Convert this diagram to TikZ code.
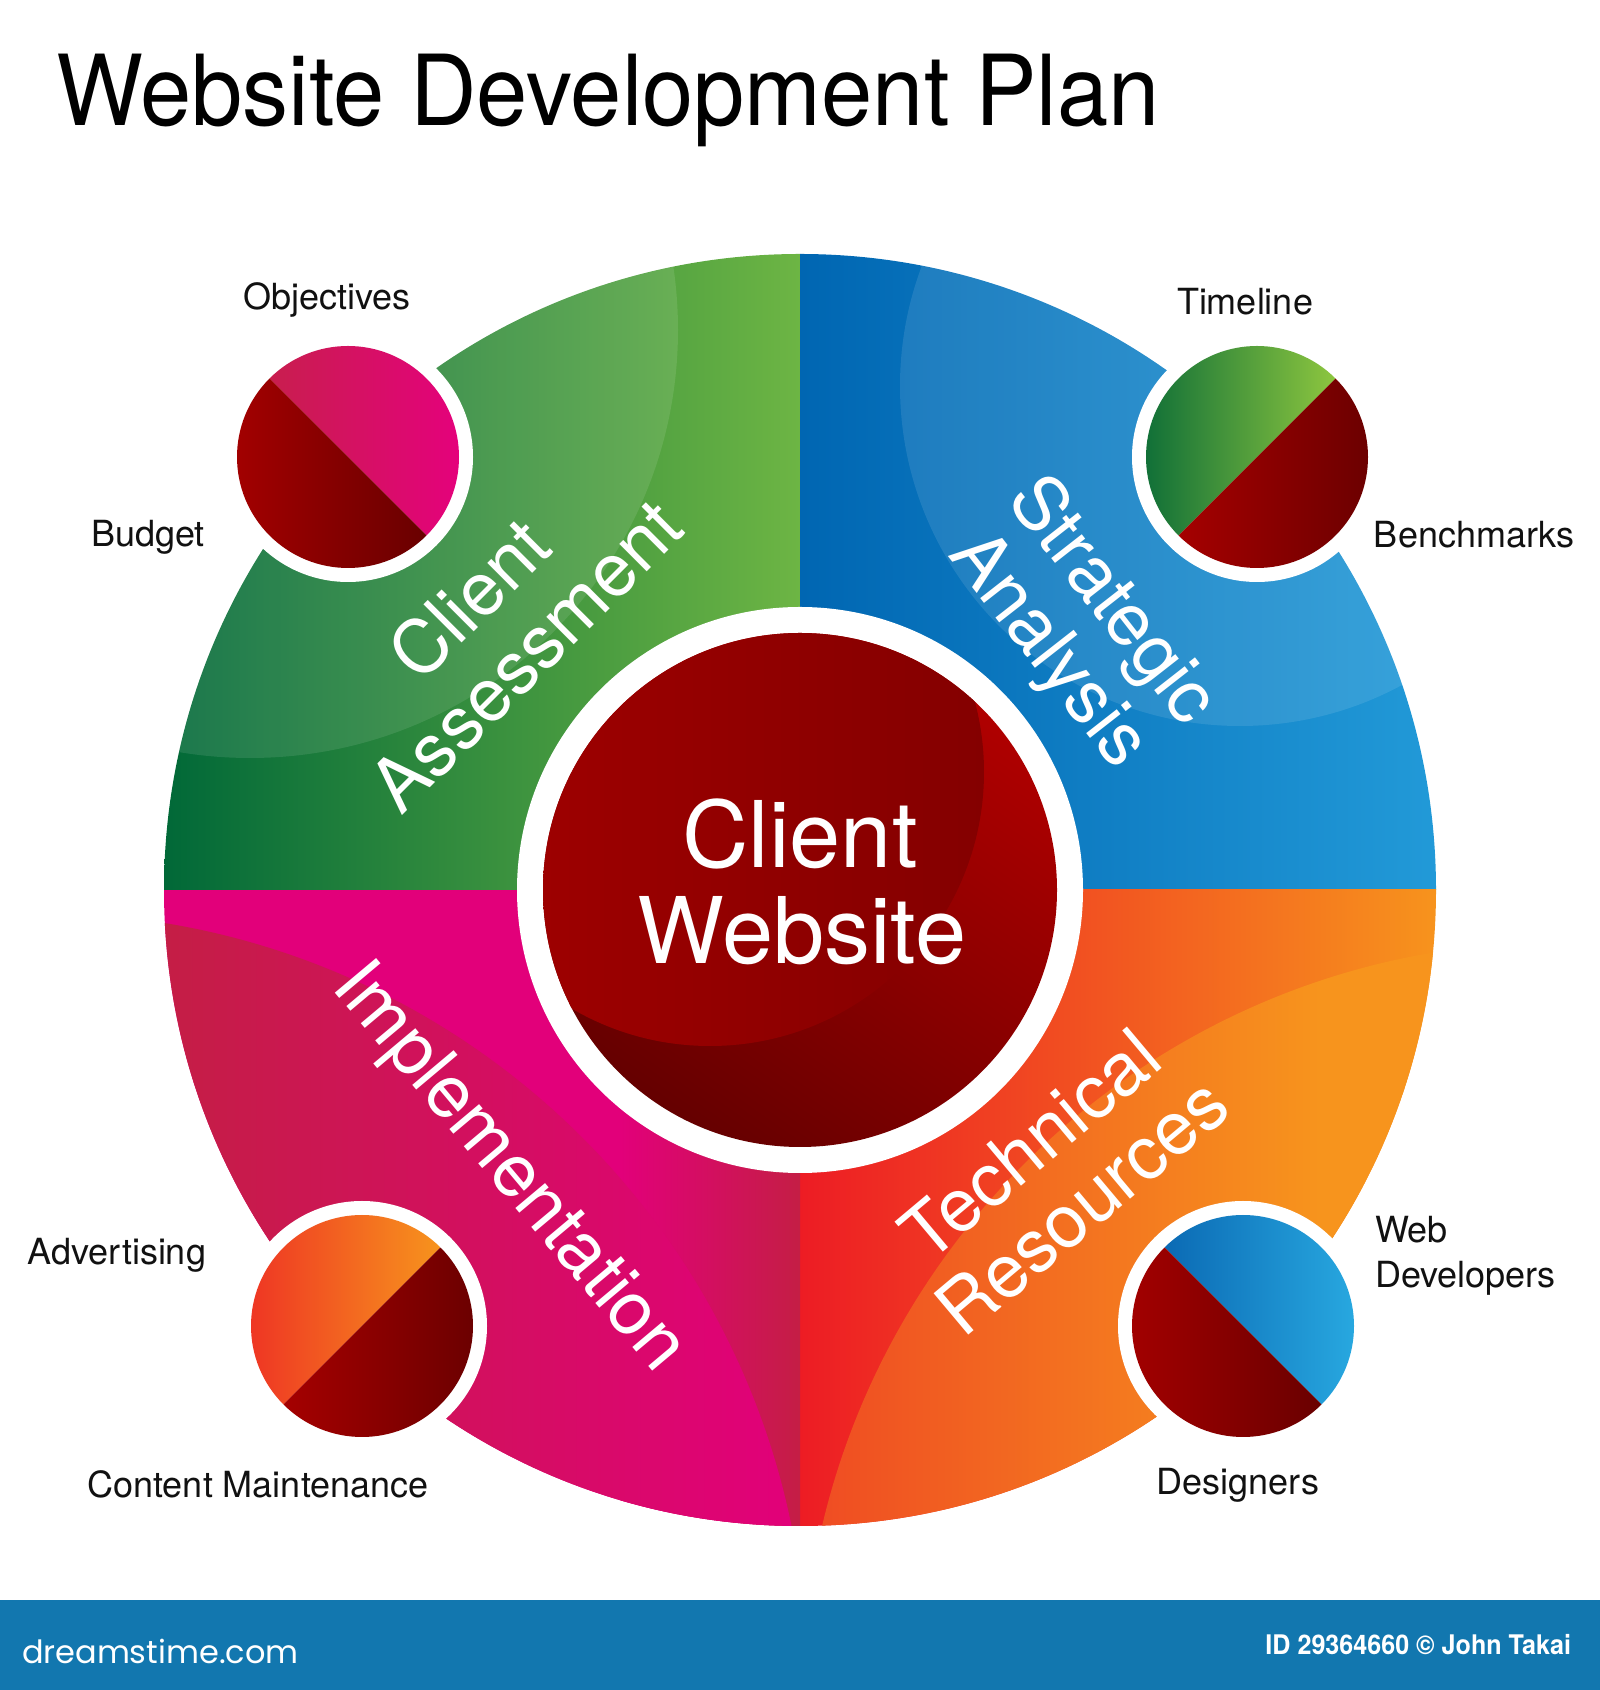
\documentclass[tikz,border=0pt]{standalone}
\usepackage{fontspec}
\setmainfont{TeX Gyre Heros}
\newfontfamily\logofont{Poppins}
\definecolor{gA}{HTML}{006838}
\definecolor{gB}{HTML}{6DB544}
\definecolor{bA}{HTML}{0066B2}
\definecolor{bB}{HTML}{229AD8}
\definecolor{oA}{HTML}{ED1C24}
\definecolor{oB}{HTML}{F7941D}
\definecolor{oC}{HTML}{EF4A23}
\definecolor{pA}{HTML}{E2007A}
\definecolor{pB}{HTML}{C41E45}
\definecolor{rA}{HTML}{B00000}
\definecolor{rB}{HTML}{650000}
\definecolor{rC}{HTML}{A30000}
\definecolor{rD}{HTML}{840000}
\definecolor{mA}{HTML}{C81E4E}
\definecolor{mB}{HTML}{E6007E}
\definecolor{dA}{HTML}{A50000}
\definecolor{dB}{HTML}{690000}
\definecolor{sgA}{HTML}{0A6B37}
\definecolor{sgB}{HTML}{8DC63F}
\definecolor{soA}{HTML}{EE3124}
\definecolor{soB}{HTML}{F7941D}
\definecolor{sbA}{HTML}{0B6AB4}
\definecolor{sbB}{HTML}{29ABE2}
\definecolor{banner}{HTML}{1277AF}
\definecolor{labelblack}{HTML}{111111}
\begin{document}
\begin{tikzpicture}[x=1pt,y=1pt,
  every node/.style={inner sep=0pt, outer sep=0pt},
  lab/.style={font=\fontsize{36}{40}\selectfont, text=labelblack, anchor=base},
  seclab/.style={font=\fontsize{74}{80}\selectfont, text=white, align=center, anchor=center},
  ringdisk/.style={fill=white}]
\useasboundingbox (0,0) rectangle (1600,1690);
\fill[white] (0,0) rectangle (1600,1690);

% ---------- quadrants ----------
\begin{scope}
  \clip (800,800) circle (636);
  % green (top left)
  \shade[left color=gA, right color=gB] (160,800) rectangle (800,1440);
  \begin{scope}
    \clip (160,800) rectangle (800,1440);
    \fill[white, opacity=0.1] (250,1360) circle (428);
  \end{scope}
  % blue (top right)
  \shade[left color=bA, right color=bB] (800,800) rectangle (1440,1440);
  \begin{scope}
    \clip (800,800) rectangle (1440,1440);
    \fill[white, opacity=0.1] (1240,1304) circle (340);
  \end{scope}
  % orange (bottom right)
  \shade[left color=oA, right color=oB] (800,160) rectangle (1440,800);
  \begin{scope}
    \clip (800,160) rectangle (1440,800);
    \clip (1560,-10) circle (758);
    \shade[left color=oC, right color=oB] (800,160) rectangle (1320,800);
    \fill[oB] (1320,160) rectangle (1440,800);
  \end{scope}
  % pink (bottom left)
  \fill[pA] (160,160) rectangle (800,800);
  \shade[left color=pA, right color=pB] (620,160) rectangle (800,800);
  \begin{scope}
    \clip (160,160) rectangle (800,800);
    \clip (40,10) circle (767);
    \shade[left color=pB, right color=pA] (160,160) rectangle (800,800);
  \end{scope}
\end{scope}

% ---------- centre circle ----------
\fill[white] (800,800) circle (283);
\begin{scope}
  \clip (800,800) circle (257);
  \shade[top color=rA, bottom color=rB, shading angle=-35] (543,543) rectangle (1057,1057);
  \clip (710,918) circle (274);
  \shade[left color=rC, right color=rD] (436,644) rectangle (984,1192);
\end{scope}

% ---------- small circles ----------
% top left
\fill[white] (348,1233) circle (125);
\shade[left color=mA, right color=mB] (348,1233) ++(135:111) arc[start angle=135, end angle=-45, radius=111] -- cycle;
\shade[left color=dA, right color=dB] (348,1233) ++(-45:111) arc[start angle=-45, end angle=-225, radius=111] -- cycle;
% top right
\fill[white] (1257,1233) circle (125);
\shade[left color=sgA, right color=sgB] (1257,1233) ++(45:111) arc[start angle=45, end angle=225, radius=111] -- cycle;
\shade[left color=dA, right color=dB] (1257,1233) ++(225:111) arc[start angle=225, end angle=405, radius=111] -- cycle;
% bottom left
\fill[white] (362,364) circle (125);
\shade[left color=soA, right color=soB] (362,364) ++(45:111) arc[start angle=45, end angle=225, radius=111] -- cycle;
\shade[left color=dA, right color=dB] (362,364) ++(225:111) arc[start angle=225, end angle=405, radius=111] -- cycle;
% bottom right
\fill[white] (1243,364) circle (125);
\shade[left color=sbA, right color=sbB] (1243,364) ++(135:111) arc[start angle=135, end angle=-45, radius=111] -- cycle;
\shade[left color=dA, right color=dB] (1243,364) ++(-45:111) arc[start angle=-45, end angle=-225, radius=111] -- cycle;

% ---------- section labels ----------
\node[seclab, rotate=45] (assess) at (497,1063) {Client\\Assessment};
\node[seclab, rotate=-52] (strat) at (1079,1063) {Strategic\\Analysis};
\node[seclab, rotate=-50, anchor=base] (impl) at (493,509) {Implementation};
\node[seclab, rotate=40] (tech) at (1056,515) {Technical\\Resources};

% ---------- centre label ----------
\node[font=\fontsize{92}{96}\selectfont, text=white, anchor=base] (cw1) at (800,822) {Client};
\node[font=\fontsize{92}{96}\selectfont, text=white, anchor=base] (cw2) at (802,726) {Website};

% ---------- outer labels ----------
\node[lab] (objectives) at (327,1380) {Objectives};
\node[lab] (budget) at (148,1143) {Budget};
\node[lab] (timeline) at (1245,1375) {Timeline};
\node[lab] (bench) at (1474,1142) {Benchmarks};
\node[lab] (advert) at (117,425) {Advertising};
\node[lab] (content) at (258,192) {Content Maintenance};
\node[lab, anchor=base west] (web) at (1375,447) {Web};
\node[lab, anchor=base west] (devs) at (1375,402) {Developers};
\node[lab] (designers) at (1238,195) {Designers};

% ---------- title ----------
\node[anchor=base west, font=\fontsize{98}{110}\selectfont, text=black] (title) at (56,1564) {\scalebox{0.94}[1]{Website Development Plan}};

% ---------- banner ----------
\fill[banner] (0,0) rectangle (1600,90);
\node[anchor=base west, text=white, font=\logofont\fontsize{32}{36}\selectfont] (logo) at (22,26) {dreamstime.com};
\node[anchor=base east, text=white, font=\bfseries\fontsize{27}{30}\selectfont] (credit) at (1571,35) {\scalebox{0.93}[1]{ID 29364660 © John Takai}};
\end{tikzpicture}
\end{document}
